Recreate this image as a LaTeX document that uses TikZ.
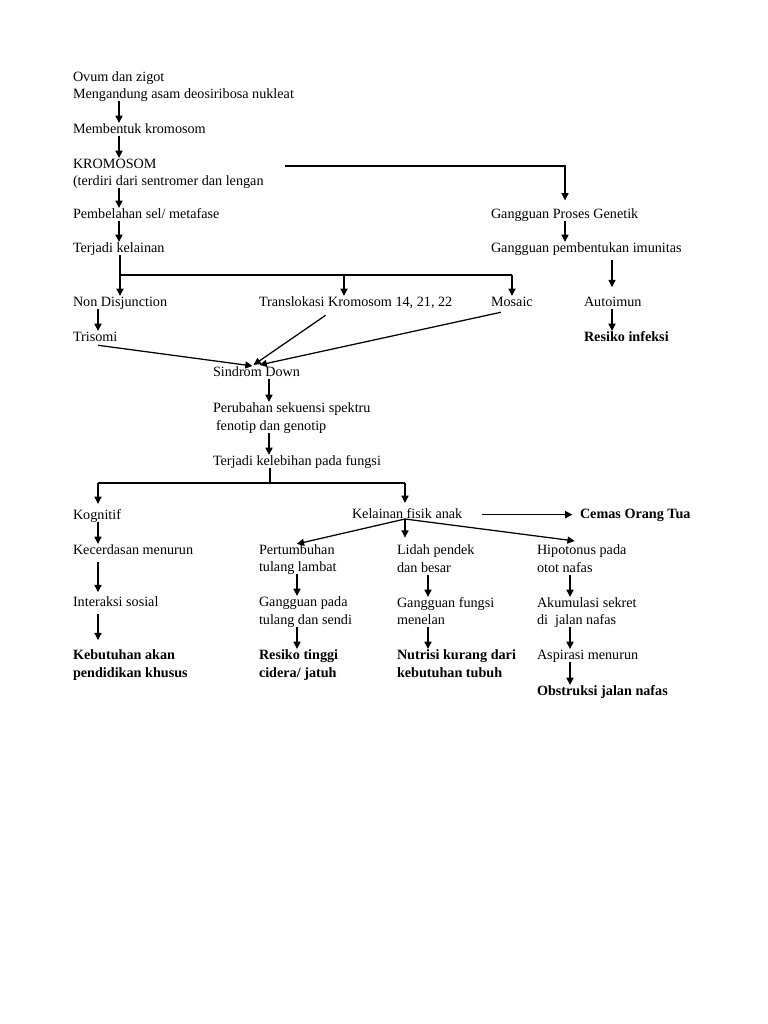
\documentclass[tikz,border=0pt]{standalone}
\usepackage{fontspec}
\setmainfont{Liberation Serif}
\usetikzlibrary{arrows.meta,calc}
\begin{document}
\begin{tikzpicture}[x=0.796875pt,y=-0.796875pt,
  txt/.style={anchor=base west,inner sep=0pt,outer sep=0pt,text height=8pt,text depth=2.6pt,font=\fontsize{11.3pt}{13.8pt}\selectfont},
  bld/.style={txt,font=\fontsize{11.3pt}{13.8pt}\selectfont\bfseries},
  ln/.style={draw=black,line width=1pt},
  arr/.style={ln,-{Triangle[length=5.8pt,width=5.6pt]}}]
\fill[white] (0,0) rectangle (768,1024);
\useasboundingbox (0,0) rectangle (768,1024);
% texts
\node[txt] (ovum) at (73,81) {Ovum dan zigot};
\node[txt] (meng) at (73,98) {Mengandung asam deosiribosa nukleat};
\node[txt] (memb) at (73,133) {Membentuk kromosom};
\node[txt] (krom) at (73,168) {KROMOSOM};
\node[txt] (krom2) at (73,185) {(terdiri dari sentromer dan lengan};
\node[txt] (pemb) at (73,218) {Pembelahan sel/ metafase};
\node[txt] (kel) at (73,252) {Terjadi kelainan};
\node[txt] (gpg) at (491,218) {Gangguan Proses Genetik};
\node[txt] (gpi) at (491,252) {Gangguan pembentukan imunitas};
\node[txt] (nond) at (73,306) {Non Disjunction};
\node[txt] (trans) at (259,306) {Translokasi Kromosom 14, 21, 22};
\node[txt] (mos) at (491,306) {Mosaic};
\node[txt] (auto) at (584,306) {Autoimun};
\node[txt] (tris) at (73,341) {Trisomi};
\node[bld] (rinf) at (584,341) {Resiko infeksi};
\node[txt] (sd) at (213,376) {Sindrom Down};
\node[txt] (perub) at (213,412) {Perubahan sekuensi spektru};
\node[txt] (fen) at (216,430) {fenotip dan genotip};
\node[txt] (lebih) at (213,465) {Terjadi kelebihan pada fungsi};
\node[txt] (kog) at (73,519) {Kognitif};
\node[txt] (kfa) at (352,518) {Kelainan fisik anak};
\node[bld] (cemas) at (580,518) {Cemas Orang Tua};
\node[txt] (kec) at (73,554) {Kecerdasan menurun};
\node[txt] (pert) at (259,554) {Pertumbuhan};
\node[txt] (pert2) at (259,571) {tulang lambat};
\node[txt] (lid) at (397,554) {Lidah pendek};
\node[txt] (lid2) at (397,572) {dan besar};
\node[txt] (hip) at (537,554) {Hipotonus pada};
\node[txt] (hip2) at (537,572) {otot nafas};
\node[txt] (inter) at (73,606) {Interaksi sosial};
\node[txt] (gp) at (259,606) {Gangguan pada};
\node[txt] (gp2) at (259,624) {tulang dan sendi};
\node[txt] (gf) at (397,607) {Gangguan fungsi};
\node[txt] (gf2) at (397,624) {menelan};
\node[txt] (aku) at (537,607) {Akumulasi sekret};
\node[txt] (aku2) at (537,624) {di\ \ jalan nafas};
\node[bld] (keb) at (73,659) {Kebutuhan akan};
\node[bld] (keb2) at (73,677) {pendidikan khusus};
\node[bld] (rt) at (259,659) {Resiko tinggi};
\node[bld] (rt2) at (259,677) {cidera/ jatuh};
\node[bld] (nut) at (397,659) {Nutrisi kurang dari};
\node[bld] (nut2) at (397,677) {kebutuhan tubuh};
\node[txt] (asp) at (537,659) {Aspirasi menurun};
\node[bld] (obs) at (537,695) {Obstruksi jalan nafas};
% coordinates
\coordinate (xa) at (119,0);
\coordinate (j1) at (120,275);
\coordinate (j2) at (344,275);
\coordinate (j3) at (512,275);
\coordinate (k1) at (285,166);
\coordinate (k2) at (565,166);
\coordinate (xi) at (612,0);
\coordinate (xn) at (98,0);
\coordinate (xs) at (269,0);
\coordinate (m0) at (270,483);
\coordinate (m1) at (98,483);
\coordinate (m2) at (405,483);
\coordinate (kf0) at (405,519);
\coordinate (xp) at (297,0);
\coordinate (xl) at (428,0);
\coordinate (xh) at (570,0);
% upper chain
\draw[arr] (meng.south -| xa) -- (memb.north -| xa);
\draw[arr] (memb.south -| xa) -- (krom.north -| xa);
\draw[arr] (krom2.south -| xa) -- (pemb.north -| xa);
\draw[arr] (pemb.south -| xa) -- (kel.north -| xa);
\draw[ln] (kel.south -| j1) -- (j1) -- (j3);
\draw[arr] (j1) -- (nond.north -| j1);
\draw[arr] (j2) -- (trans.north -| j2);
\draw[arr] (j3) -- (mos.north -| j3);
% right branch
\draw[arr,shorten >=6pt] (k1) -- (k2) -- (gpg.north -| k2);
\draw[arr] (gpg.south -| k2) -- (gpi.north -| k2);
\draw[arr,shorten <=4pt,shorten >=7pt] (gpi.south -| xi) -- (auto.north -| xi);
\draw[arr] (auto.south -| xi) -- (rinf.north -| xi);
% to Sindrom Down
\draw[arr] (nond.south -| xn) -- (tris.north -| xn);
\draw[arr] ($(tris.south -| xn)+(0,1)$) -- ($(sd.north)+(-4,0)$);
\draw[arr] ($(trans.south)+(-30,6)$) -- ($(sd.north)+(-3,-1)$);
\draw[arr] ($(mos.south)+(-11,3)$) -- ($(sd.north)+(3,-1)$);
\draw[arr] (sd.south -| xs) -- (perub.north -| xs);
\draw[arr] (fen.south -| xs) -- (lebih.north -| xs);
% split
\draw[ln] (lebih.south -| m0) -- (m0);
\draw[ln] (m1) -- (m2);
\draw[arr,shorten >=4pt] (m1) -- (kog.north -| m1);
\draw[arr,shorten >=4pt] (m2) -- (kfa.north -| m2);
% Kognitif column
\draw[arr] (kog.south -| xn) -- (kec.north -| xn);
\draw[arr,shorten <=4pt,shorten >=3pt] (kec.south -| xn) -- (inter.north -| xn);
\draw[arr,shorten <=4pt,shorten >=7pt] (inter.south -| xn) -- (keb.north -| xn);
% Kelainan fisik anak
\draw[arr] (kf0) -- (pert.north);
\draw[arr,shorten >=5pt] (kf0) -- (lid.north -| kf0);
\draw[arr] (kf0) -- ($(hip.north)+(-7,-3)$);
\draw[arr] ([xshift=16pt]kfa.east) -- ([xshift=-6pt]cemas.west);
\draw[arr] (pert2.south -| xp) -- (gp.north -| xp);
\draw[arr] (gp2.south -| xp) -- (rt.north -| xp);
\draw[arr] (lid2.south -| xl) -- (gf.north -| xl);
\draw[arr] (gf2.south -| xl) -- (nut.north -| xl);
\draw[arr] (hip2.south -| xh) -- (aku.north -| xh);
\draw[arr] (aku2.south -| xh) -- (asp.north -| xh);
\draw[arr] (asp.south -| xh) -- (obs.north -| xh);
\end{tikzpicture}
\end{document}
